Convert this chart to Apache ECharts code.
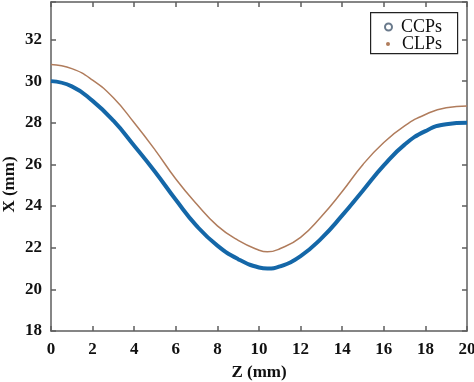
<!DOCTYPE html>
<html>
<head>
<meta charset="utf-8">
<script src="https://cdn.jsdelivr.net/npm/echarts@6/dist/echarts.min.js"></script>
<style>
html,body{margin:0;padding:0;background:#fff;}
#chart{width:474px;height:382px;}
</style>
</head>
<body>
<div id="chart"></div>
<script>
// Z positions (mm)
var zValues = [0, 1, 2, 3, 4, 5, 6, 7, 8, 9, 10, 10.4, 11, 12, 13, 14, 15, 16, 17, 18, 19, 20];
// CCPs X values (mm)
var ccpValues = [30.0, 29.75, 29.05, 28.1, 26.9, 25.65, 24.3, 23.05, 22.1, 21.45, 21.05, 21.0, 21.1, 21.6, 22.45, 23.55, 24.75, 25.95, 26.95, 27.6, 27.93, 28.0];
// CLPs X values (mm)
var clpValues = [30.8, 30.6, 30.05, 29.2, 28.0, 26.7, 25.3, 24.1, 23.05, 22.35, 21.88, 21.8, 21.95, 22.5, 23.5, 24.7, 26.0, 27.05, 27.85, 28.4, 28.72, 28.8];
var seriesNames = ['CCPs', 'CLPs'];
var xTicks = [0, 2, 4, 6, 8, 10, 12, 14, 16, 18, 20];
var yTicks = [18, 20, 22, 24, 26, 28, 30, 32];

function pairs(xs, ys) { return xs.map(function (x, i) { return [x, ys[i]]; }); }

var serif = 'Liberation Serif';
var axisColor = '#5e5e5e';
function tickStyle() { return { show: true, inside: true, length: 5, lineStyle: { color: axisColor, width: 1.5 } }; }

var chart = echarts.init(document.getElementById('chart'));
chart.setOption({
  animation: false,
  backgroundColor: '#fff',
  grid: { left: 51, right: 7, top: 2, bottom: 51, containLabel: false, outerBoundsMode: 'none' },
  xAxis: [{
    type: 'value', min: 0, max: 20, interval: 2,
    name: 'Z (mm)', nameLocation: 'middle', nameGap: 33, nameMoveOverlap: false,
    nameTextStyle: { fontFamily: serif, fontWeight: 'bold', fontSize: 17, color: '#111' },
    axisLine: { show: true, onZero: false, lineStyle: { color: axisColor, width: 1.5 } },
    axisTick: tickStyle(),
    axisLabel: { fontFamily: serif, fontWeight: 'bold', fontSize: 17, color: '#111', margin: 10, customValues: xTicks },
    splitLine: { show: false }
  }, {
    type: 'value', min: 0, max: 20, interval: 2, position: 'top',
    axisLine: { show: true, onZero: false, lineStyle: { color: axisColor, width: 1.5 } },
    axisTick: tickStyle(),
    axisLabel: { show: false },
    splitLine: { show: false }
  }],
  yAxis: [{
    type: 'value', min: 18, max: 33.8, interval: 2,
    name: 'X (mm)', nameLocation: 'middle', nameGap: 33, nameMoveOverlap: false,
    nameTextStyle: { fontFamily: serif, fontWeight: 'bold', fontSize: 17, color: '#111', padding: [0, 36, 0, 0] },
    axisLine: { show: true, onZero: false, lineStyle: { color: axisColor, width: 1.5 } },
    axisTick: tickStyle(),
    axisLabel: { fontFamily: serif, fontWeight: 'bold', fontSize: 17, color: '#111', margin: 9, customValues: yTicks },
    splitLine: { show: false }
  }, {
    type: 'value', min: 18, max: 33.8, interval: 2, position: 'right',
    axisLine: { show: true, onZero: false, lineStyle: { color: axisColor, width: 1.5 } },
    axisTick: tickStyle(),
    axisLabel: { show: false },
    splitLine: { show: false }
  }],
  legend: [{
    data: [{ name: seriesNames[0], icon: 'emptyCircle', itemStyle: { color: '#6a7a8c', borderColor: '#6a7a8c', borderWidth: 1 } }],
    left: 384, top: 18, itemWidth: 7, itemHeight: 7, itemGap: 6, padding: 0,
    textStyle: { fontFamily: serif, fontSize: 18, color: '#111', padding: [0, 0, 0, 4] },
    selectedMode: false
  }, {
    data: [{ name: seriesNames[1], icon: 'circle', itemStyle: { color: '#b07c5c' } }],
    left: 386, top: 35, itemWidth: 4, itemHeight: 4, padding: 0,
    textStyle: { fontFamily: serif, fontSize: 18, color: '#111', padding: [0, 0, 0, 7] },
    selectedMode: false
  }],
  graphic: [{
    type: 'rect', left: 370, top: 12, shape: { width: 87, height: 41 },
    style: { fill: 'transparent', stroke: '#222', lineWidth: 1.2 }, z: 10
  }],
  series: [{
    name: seriesNames[0], type: 'line', smooth: true, showSymbol: false,
    xAxisIndex: 0, yAxisIndex: 0,
    data: pairs(zValues, ccpValues),
    lineStyle: { color: '#1467a8', width: 4 }, itemStyle: { color: '#1467a8' }
  }, {
    name: seriesNames[1], type: 'line', smooth: true, showSymbol: false,
    xAxisIndex: 0, yAxisIndex: 0,
    data: pairs(zValues, clpValues),
    lineStyle: { color: '#b07c5c', width: 1.5 }, itemStyle: { color: '#b07c5c' }
  }]
});
</script>
</body>
</html>
